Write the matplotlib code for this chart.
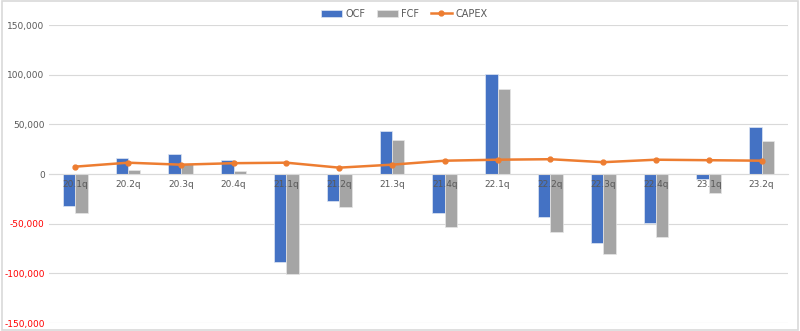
import numpy as np
import matplotlib.pyplot as plt
from matplotlib.patches import Rectangle
from matplotlib.ticker import FuncFormatter

# quarterly cash flow figures
quarters = ['20.1q', '20.2q', '20.3q', '20.4q', '21.1q', '21.2q', '21.3q',
            '21.4q', '22.1q', '22.2q', '22.3q', '22.4q', '23.1q', '23.2q']
ocf = [-32000, 16000, 20500, 14500, -89000, -27000, 43500,
       -39500, 101000, -43000, -69000, -49000, -5000, 47500]
fcf = [-39000, 4500, 10000, 3500, -100500, -33500, 34000,
       -53500, 86000, -58500, -80500, -63500, -19500, 33000]
capex = [7500, 11500, 9500, 11000, 11500, 6500, 9500,
         13500, 14500, 15000, 12000, 14500, 14000, 13500]

BLUE = '#4472C4'
GRAY = '#A5A5A5'
ORANGE = '#ED7D31'
TEXT = '#595959'

fig = plt.figure(figsize=(8.0, 3.31), dpi=100)
ax = fig.add_axes([0.061, 0.024, 0.924, 0.9])

x = np.arange(len(quarters))
w = 0.235
b1 = ax.bar(x - w / 2, ocf, w, color=BLUE, edgecolor='#dfe6f3', linewidth=0.5,
            label='OCF', zorder=2)
b2 = ax.bar(x + w / 2, fcf, w, color=GRAY, edgecolor='#e6e6e6', linewidth=0.5,
            label='FCF', zorder=2)
l1, = ax.plot(x, capex, color=ORANGE, linewidth=1.8, marker='o',
              markersize=3.5, label='CAPEX', zorder=3)

ax.set_xlim(-0.5, len(quarters) - 0.5)
ax.set_ylim(-150000, 150000)
ax.set_yticks(np.arange(-150000, 150001, 50000))
ax.yaxis.set_major_formatter(FuncFormatter(lambda v, p: f'{int(v):,}'))
ax.grid(axis='y', color='#d9d9d9', linewidth=0.8, zorder=0)
ax.set_axisbelow(True)

for side in ['top', 'right', 'left']:
    ax.spines[side].set_visible(False)
ax.spines['bottom'].set_position(('data', 0))
ax.spines['bottom'].set_color('#d9d9d9')

# category labels sit just under the zero line, on top of the bars
ax.set_xticks(x)
ax.set_xticklabels([])
ax.tick_params(axis='x', length=0)
for xi, q in zip(x, quarters):
    ax.annotate(q, (xi, 0), xytext=(0, -4), textcoords='offset points',
                ha='center', va='top', fontsize=6.5, color=TEXT, zorder=5)

ax.tick_params(axis='y', length=0, pad=3, labelsize=6.5)
for lbl, v in zip(ax.get_yticklabels(), ax.get_yticks()):
    lbl.set_color('#FF0000' if v < 0 else TEXT)

leg = fig.legend([b1, b2, l1], ['OCF', 'FCF', 'CAPEX'], loc='upper center',
                 bbox_to_anchor=(0.505, 1.0), ncol=3, frameon=False,
                 fontsize=7, handlelength=2.2, handletextpad=0.3,
                 columnspacing=1.2)
for t in leg.get_texts():
    t.set_color(TEXT)

# thin chart border
fig.patches.append(Rectangle((0.002, 0.003), 0.996, 0.994,
                             transform=fig.transFigure, fill=False,
                             edgecolor='#d9d9d9', linewidth=1.2))

fig.savefig('out.png', dpi=100)
